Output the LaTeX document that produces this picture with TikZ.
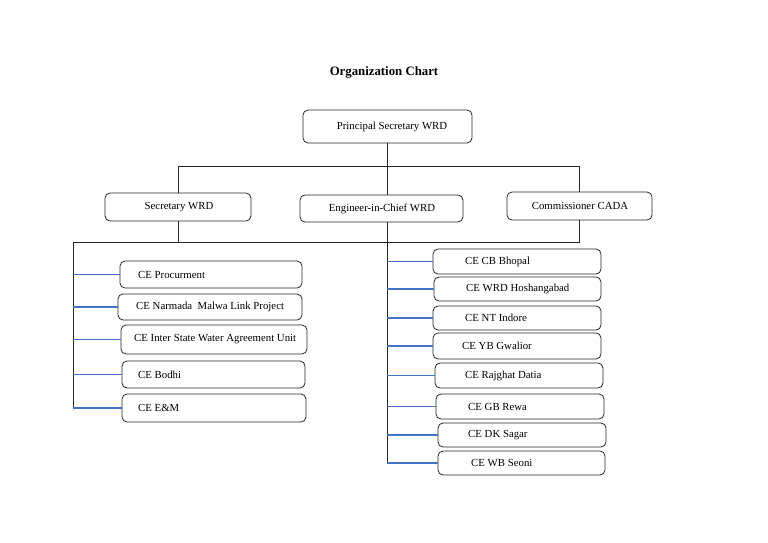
\documentclass[tikz,border=0pt]{standalone}
\usepackage{fontspec}
\setmainfont{Liberation Serif}
\definecolor{brblue}{RGB}{68,114,196}
\begin{document}
\begin{tikzpicture}[x=1pt,y=-1pt,
  box/.style={draw=black!85,rounded corners=5pt,line width=0.8pt,inner sep=0pt},
  lbl/.style={font=\fontsize{10.8}{13}\selectfont,inner sep=0pt},
  trunk/.style={draw=black!85,line width=0.8pt},
  branch/.style={draw=brblue,line width=1.2pt}]
\useasboundingbox (0,0) rectangle (768,543);
\newcommand\cebx[7]{%
  \node[box,minimum width={#4-#2},minimum height={#5-#3}] (#1) at ({(#2+#4)/2},{(#3+#5)/2}) {};
  \node[lbl,anchor=west] (#1t) at (#6,{(#3+#5)/2}) {#7};}
\node[font=\bfseries\fontsize{12.8}{15}\selectfont] (title) at (384,72) {Organization Chart};
% top levels
\node[box,minimum width=169,minimum height=33] (ps) at (387.5,126.5) {};
\node[lbl] (pst) at (392,127) {Principal Secretary WRD};
\node[box,minimum width=146,minimum height=28] (sec) at (178,207) {};
\node[lbl] (sect) at (179,207) {Secretary WRD};
\node[box,minimum width=163,minimum height=27] (eic) at (381.5,208.5) {};
\node[lbl] (eict) at (382,208.5) {Engineer-in-Chief WRD};
\node[box,minimum width=145,minimum height=28] (com) at (579.5,206) {};
\node[lbl] (comt) at (580,206) {Commissioner CADA};
\coordinate (hl) at (178,166);
\coordinate (lt) at (73,242);
\coordinate (lb) at (73,409);
\coordinate (rt) at (387,222);
\coordinate (rb) at (387,464);
\draw[trunk] (ps.south -| rt) -- (rt |- hl);
\draw[trunk] (hl) -- (com.north |- hl);
\draw[trunk] (hl) -- (sec.north);
\draw[trunk] (rt |- hl) -- (rt |- eic.north);
\draw[trunk] (com.north |- hl) -- (com.north);
\draw[trunk] (sec.south) -- (sec.south |- lt);
\draw[trunk] (com.south) -- (com.south |- lt) -- (lt) -- (lb);
\draw[trunk] (rt) -- (rb);
% left group
\cebx{l1}{120}{261}{302}{288}{138}{CE Procurment}
\cebx{l2}{118}{294}{302}{320}{136}{CE Narmada\ \ Malwa Link Project}
\cebx{l3}{121}{325}{307}{354}{134}{CE Inter State Water Agreement Unit}
\cebx{l4}{122}{361}{305}{388}{138}{CE Bodhi}
\cebx{l5}{122}{394}{306}{422}{138}{CE E\&M}
\foreach \n in {l1,l2,l3,l4,l5}{\draw[branch] ([xshift=0.4pt]\n.west -| lt) -- (\n.west);}
% right group
\cebx{r1}{433}{249}{601}{274}{465}{CE CB Bhopal}
\cebx{r2}{434}{277}{601}{301}{466}{CE WRD Hoshangabad}
\cebx{r3}{433}{306}{601}{330}{465}{CE NT Indore}
\cebx{r4}{433}{333}{601}{359}{462}{CE YB Gwalior}
\cebx{r5}{435}{363}{603}{388}{465}{CE Rajghat Datia}
\cebx{r6}{436}{394}{604}{419}{468}{CE GB Rewa}
\cebx{r7}{438}{423}{606}{447}{468}{CE DK Sagar}
\cebx{r8}{438}{451}{605}{475}{471}{CE WB Seoni}
\foreach \n in {r1,r2,r3,r4,r5,r6,r7,r8}{\draw[branch] ([xshift=0.4pt]\n.west -| rt) -- (\n.west);}
\end{tikzpicture}
\end{document}
